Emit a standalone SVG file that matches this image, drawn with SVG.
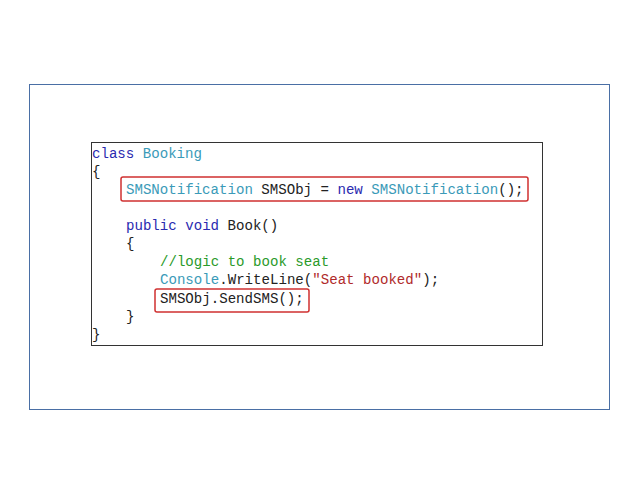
<svg xmlns="http://www.w3.org/2000/svg" width="638" height="493" viewBox="0 0 638 493">
<style>
text{font-family:"Liberation Mono","DejaVu Sans Mono",monospace;font-size:14.1px;fill:#222}
.k{fill:#2a2ab0}.t{fill:#3a9ab8}.c{fill:#2a9a2a}.s{fill:#b02a2a}
.hl{fill:none;stroke:#d03030;stroke-width:1.5}
</style>
<rect width="638" height="493" fill="#fff"/>
<rect x="29.5" y="84.5" width="580" height="325" fill="none" stroke="#4a6fa5" stroke-width="1"/>
<g id="code">
<rect x="91.5" y="142.5" width="451" height="203" fill="#fff" stroke="#333" stroke-width="1"/>
<text x="92" y="158"><tspan class="k">class</tspan> <tspan class="t">Booking</tspan></text>
<text x="92" y="176">{</text>
<text x="126" y="194"><tspan class="t">SMSNotification</tspan> SMSObj = <tspan class="k">new</tspan> <tspan class="t">SMSNotification</tspan>();</text>
<text x="126" y="230"><tspan class="k">public</tspan> <tspan class="k">void</tspan> Book()</text>
<text x="126" y="248">{</text>
<text x="160" y="266" class="c">//logic to book seat</text>
<text x="160" y="284"><tspan class="t">Console</tspan>.WriteLine(<tspan class="s">"Seat booked"</tspan>);</text>
<text x="160" y="303">SMSObj.SendSMS();</text>
<text x="126" y="321">}</text>
<text x="92" y="339">}</text>
</g>
<g id="highlights">
<rect class="hl" x="121" y="177" width="407" height="24" rx="2"/>
<rect class="hl" x="155" y="289" width="154" height="23" rx="2"/>
</g>
</svg>
